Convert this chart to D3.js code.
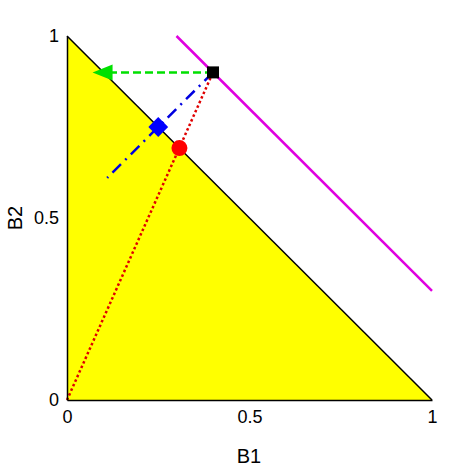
<!DOCTYPE html><html><head><script src="https://cdn.jsdelivr.net/npm/d3@7"></script>
<style>body{margin:0;background:#fff}</style></head><body><svg id="c" width="474" height="474"></svg><script>
const triangle=[[0,0],[1,0],[0,1]];
const budgetLine=[[0.3,1.0],[1.0,0.3]];
const point=[0.4,0.9];
const redPoint=[0.308,0.692];
const bluePath=[[0.4,0.9],[0.11,0.61]];
const diamond=[0.25,0.75];
const arrowEnd=[0.07,0.9];
const ticks=[0,0.5,1];
const svg=d3.select("#c");
const x=d3.scaleLinear().domain([0,1]).range([67,432]);
const y=d3.scaleLinear().domain([0,1]).range([400,36]);
const line=d3.line().x(d=>x(d[0])).y(d=>y(d[1]));
svg.append("path").attr("d",line(triangle)+"Z").attr("fill","#ffff00").attr("stroke","none");
svg.append("path").attr("d",line([[1,0],[0,1]])).attr("stroke","#000").attr("stroke-width",1.5);
svg.append("path").attr("d",line(budgetLine)).attr("stroke","#e000e0").attr("stroke-width",2.5);
svg.append("path").attr("d",line([[0,0],point])).attr("stroke","#e00000").attr("stroke-width",2.5).attr("stroke-dasharray","2.5,2.5");
svg.append("path").attr("d",line(bluePath)).attr("stroke","#0000e0").attr("stroke-width",2.5).attr("stroke-dasharray","12,6,2,6");
svg.append("path").attr("d",line([point,[arrowEnd[0]+0.05,arrowEnd[1]]])).attr("stroke","#00e000").attr("stroke-width",2.5).attr("stroke-dasharray","8,4");
const ax=x(arrowEnd[0]),ay=y(arrowEnd[1]);
svg.append("path").attr("d",`M${ax},${ay}L${ax+20},${ay-8}L${ax+20},${ay+8}Z`).attr("fill","#00e000");
svg.append("circle").attr("cx",x(redPoint[0])).attr("cy",y(redPoint[1])).attr("r",8).attr("fill","#ff0000");
svg.append("rect").attr("x",x(diamond[0])-7).attr("y",y(diamond[1])-7).attr("width",14).attr("height",14).attr("fill","#0000ff").attr("transform",`rotate(45,${x(diamond[0])},${y(diamond[1])})`);
svg.append("rect").attr("x",x(point[0])-6).attr("y",y(point[1])-6).attr("width",12).attr("height",12).attr("fill","#000");
const gx=svg.append("g").attr("transform","translate(0,400)").call(d3.axisBottom(x).tickValues(ticks).tickFormat(d3.format("")).tickSize(0).tickPadding(10));
const gy=svg.append("g").attr("transform","translate(67,0)").call(d3.axisLeft(y).tickValues(ticks).tickFormat(d3.format("")).tickSize(0).tickPadding(8));
[gx,gy].forEach(g=>{g.select(".domain").attr("stroke-width",1.5);g.selectAll("text").attr("font-family","Arial, Liberation Sans").attr("font-size",18).attr("fill","#000");});
svg.append("text").attr("x",249).attr("y",463).attr("text-anchor","middle").attr("font-family","Liberation Sans").attr("font-size",20).text("B1");
svg.append("text").attr("transform","translate(22,218) rotate(-90)").attr("text-anchor","middle").attr("font-family","Liberation Sans").attr("font-size",20).text("B2");
</script></body></html>
